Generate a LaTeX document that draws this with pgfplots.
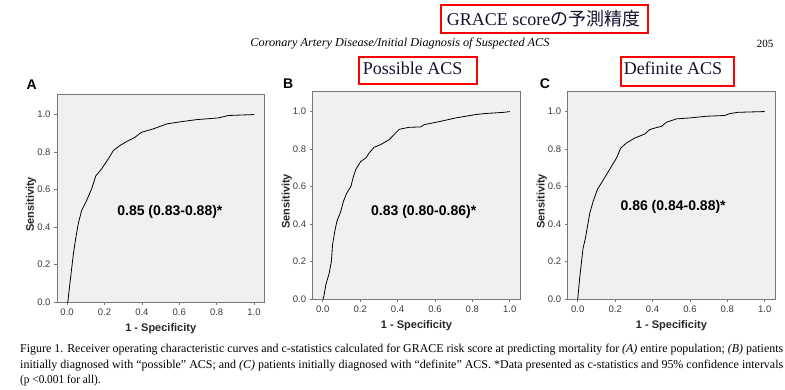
\documentclass[border=0pt]{standalone}
\usepackage{fontspec}
\setmainfont{Liberation Serif}
\setsansfont{Liberation Sans}
\newfontfamily\jp{Noto Sans CJK JP}
\usepackage{graphicx}
\usepackage{pgfplots}
\pgfplotsset{compat=1.18}
\definecolor{bgg}{RGB}{240,240,240}
\definecolor{axg}{RGB}{120,120,120}
\definecolor{tkc}{RGB}{60,60,60}
\definecolor{hdr}{RGB}{20,20,50}
\pgfplotsset{rocstyle/.style={
  scale only axis, width=207.5pt, height=207.5pt,
  xmin=-0.054, xmax=1.056, ymin=0, ymax=1.107,
  axis background/.style={fill=bgg},
  axis line style={draw=axg, line width=0.8pt},
  tick pos=left, tick align=outside, major tick length=3pt,
  every tick/.style={draw=axg, line width=0.6pt},
  xtick={0,0.2,0.4,0.6,0.8,1}, xticklabels={0.0,0.2,0.4,0.6,0.8,1.0},
  ytick={0,0.2,0.4,0.6,0.8,1}, yticklabels={0.0,0.2,0.4,0.6,0.8,1.0},
  tick label style={font=\sffamily\fontsize{9.5}{10}\selectfont, text=tkc},
  xlabel={1 - Specificity}, ylabel={Sensitivity},
  every axis x label/.style={at={(axis description cs:0.5,-0.13)}, anchor=center, font=\sffamily\bfseries\fontsize{11}{12}\selectfont, text=black!85},
  every axis y label/.style={at={(axis description cs:-0.125,0.47)}, anchor=center, rotate=90, font=\sffamily\bfseries\fontsize{11}{12}\selectfont, text=black!85},
}}
\begin{document}
\begin{tikzpicture}
\path[use as bounding box, fill=white] (0,0) rectangle (785pt,389pt);

% header
\draw[red, line width=2pt] (441pt,356pt) rectangle (648pt,384pt);
\node[inner sep=0, text=hdr, font=\fontsize{18}{20}\selectfont] at (543.5pt,370pt) {GRACE score{\jp の予測精度}};
\node[inner sep=0] at (400pt,345pt) {\resizebox{299pt}{\height}{\fontsize{12}{14}\selectfont\itshape Coronary Artery Disease/Initial Diagnosis of Suspected ACS}};
\node[inner sep=0, font=\fontsize{11}{13}\selectfont] at (765pt,345pt) {205};

% subtitles
\draw[red, line width=2pt] (359.3pt,305pt) rectangle (476.7pt,332pt);
\node[inner sep=0, text=hdr, font=\fontsize{18}{20}\selectfont] at (412.7pt,320.7pt) {Possible ACS};
\draw[red, line width=2pt] (621pt,303.3pt) rectangle (734.3pt,332pt);
\node[inner sep=0, text=hdr, font=\fontsize{18}{20}\selectfont] at (673pt,321pt) {Definite ACS};

% panel letters
\node[font=\sffamily\bfseries\fontsize{14}{16}\selectfont] at (31.7pt,304pt) {A};
\node[font=\sffamily\bfseries\fontsize{14}{16}\selectfont] at (288.3pt,305.7pt) {B};
\node[font=\sffamily\bfseries\fontsize{14}{16}\selectfont] at (545pt,305.7pt) {C};

% Panel A
\begin{axis}[rocstyle, at={(57pt,87pt)}, anchor=south west]
\addplot[black, line width=0.8pt] coordinates {
(0,0) (0.004,0) (0.016,0.108) (0.034,0.259) (0.046,0.339) (0.060,0.419) (0.078,0.489) (0.105,0.543) (0.132,0.605) (0.153,0.672) (0.185,0.711) (0.221,0.764) (0.248,0.809) (0.283,0.835) (0.319,0.856) (0.364,0.879) (0.39,0.90) (0.40,0.906) (0.462,0.924) (0.533,0.95) (0.604,0.961) (0.693,0.973) (0.809,0.982) (0.863,0.995) (1,1)
};
\node[font=\sffamily\bfseries\fontsize{14}{16}\selectfont] at (axis cs:0.55,0.48) {0.85 (0.83-0.88)*};
\end{axis}

% Panel B
\begin{axis}[rocstyle, at={(312.7pt,90pt)}, anchor=south west]
\addplot[black, line width=0.8pt] coordinates {
(0,0) (0.004,0.004) (0.016,0.075) (0.034,0.137) (0.046,0.20) (0.052,0.289) (0.064,0.36) (0.075,0.413) (0.096,0.467) (0.11,0.52) (0.128,0.565) (0.15,0.60) (0.164,0.654) (0.176,0.69) (0.203,0.734) (0.23,0.752) (0.248,0.779) (0.274,0.809) (0.31,0.824) (0.355,0.85) (0.381,0.877) (0.408,0.904) (0.417,0.907) (0.462,0.916) (0.524,0.918) (0.542,0.93) (0.631,0.948) (0.711,0.966) (0.818,0.984) (0.863,0.989) (0.97,0.996) (1,1)
};
\node[font=\sffamily\bfseries\fontsize{14}{16}\selectfont] at (axis cs:0.54,0.467) {0.83 (0.80-0.86)*};
\end{axis}

% Panel C
\begin{axis}[rocstyle, at={(567.7pt,90pt)}, anchor=south west]
\addplot[black, line width=0.8pt] coordinates {
(0,0) (0,0.004) (0.01,0.111) (0.028,0.27) (0.041,0.325) (0.064,0.458) (0.082,0.52) (0.105,0.585) (0.127,0.62) (0.153,0.663) (0.18,0.708) (0.207,0.752) (0.23,0.805) (0.26,0.832) (0.305,0.859) (0.358,0.88) (0.385,0.904) (0.412,0.912) (0.448,0.921) (0.474,0.943) (0.528,0.961) (0.599,0.966) (0.688,0.975) (0.786,0.979) (0.813,0.989) (0.857,0.996) (1,1)
};
\node[font=\sffamily\bfseries\fontsize{14}{16}\selectfont] at (axis cs:0.51,0.494) {0.86 (0.84-0.88)*};
\end{axis}

% caption
\node[inner sep=0, anchor=west] at (20pt,39pt) {\resizebox{763pt}{\height}{\fontsize{12}{14}\selectfont Figure 1. Receiver operating characteristic curves and c-statistics calculated for GRACE risk score at predicting mortality for \textit{(A)} entire population; \textit{(B)} patients}};
\node[inner sep=0, anchor=west] at (20pt,23pt) {\resizebox{763pt}{\height}{\fontsize{12}{14}\selectfont initially diagnosed with “possible” ACS; and \textit{(C)} patients initially diagnosed with “definite” ACS. *Data presented as c-statistics and 95\% confidence intervals}};
\node[inner sep=0, anchor=west] at (20pt,8pt) {\scalebox{0.94}[1]{\fontsize{12}{14}\selectfont (p <0.001 for all).}};
\end{tikzpicture}
\end{document}
